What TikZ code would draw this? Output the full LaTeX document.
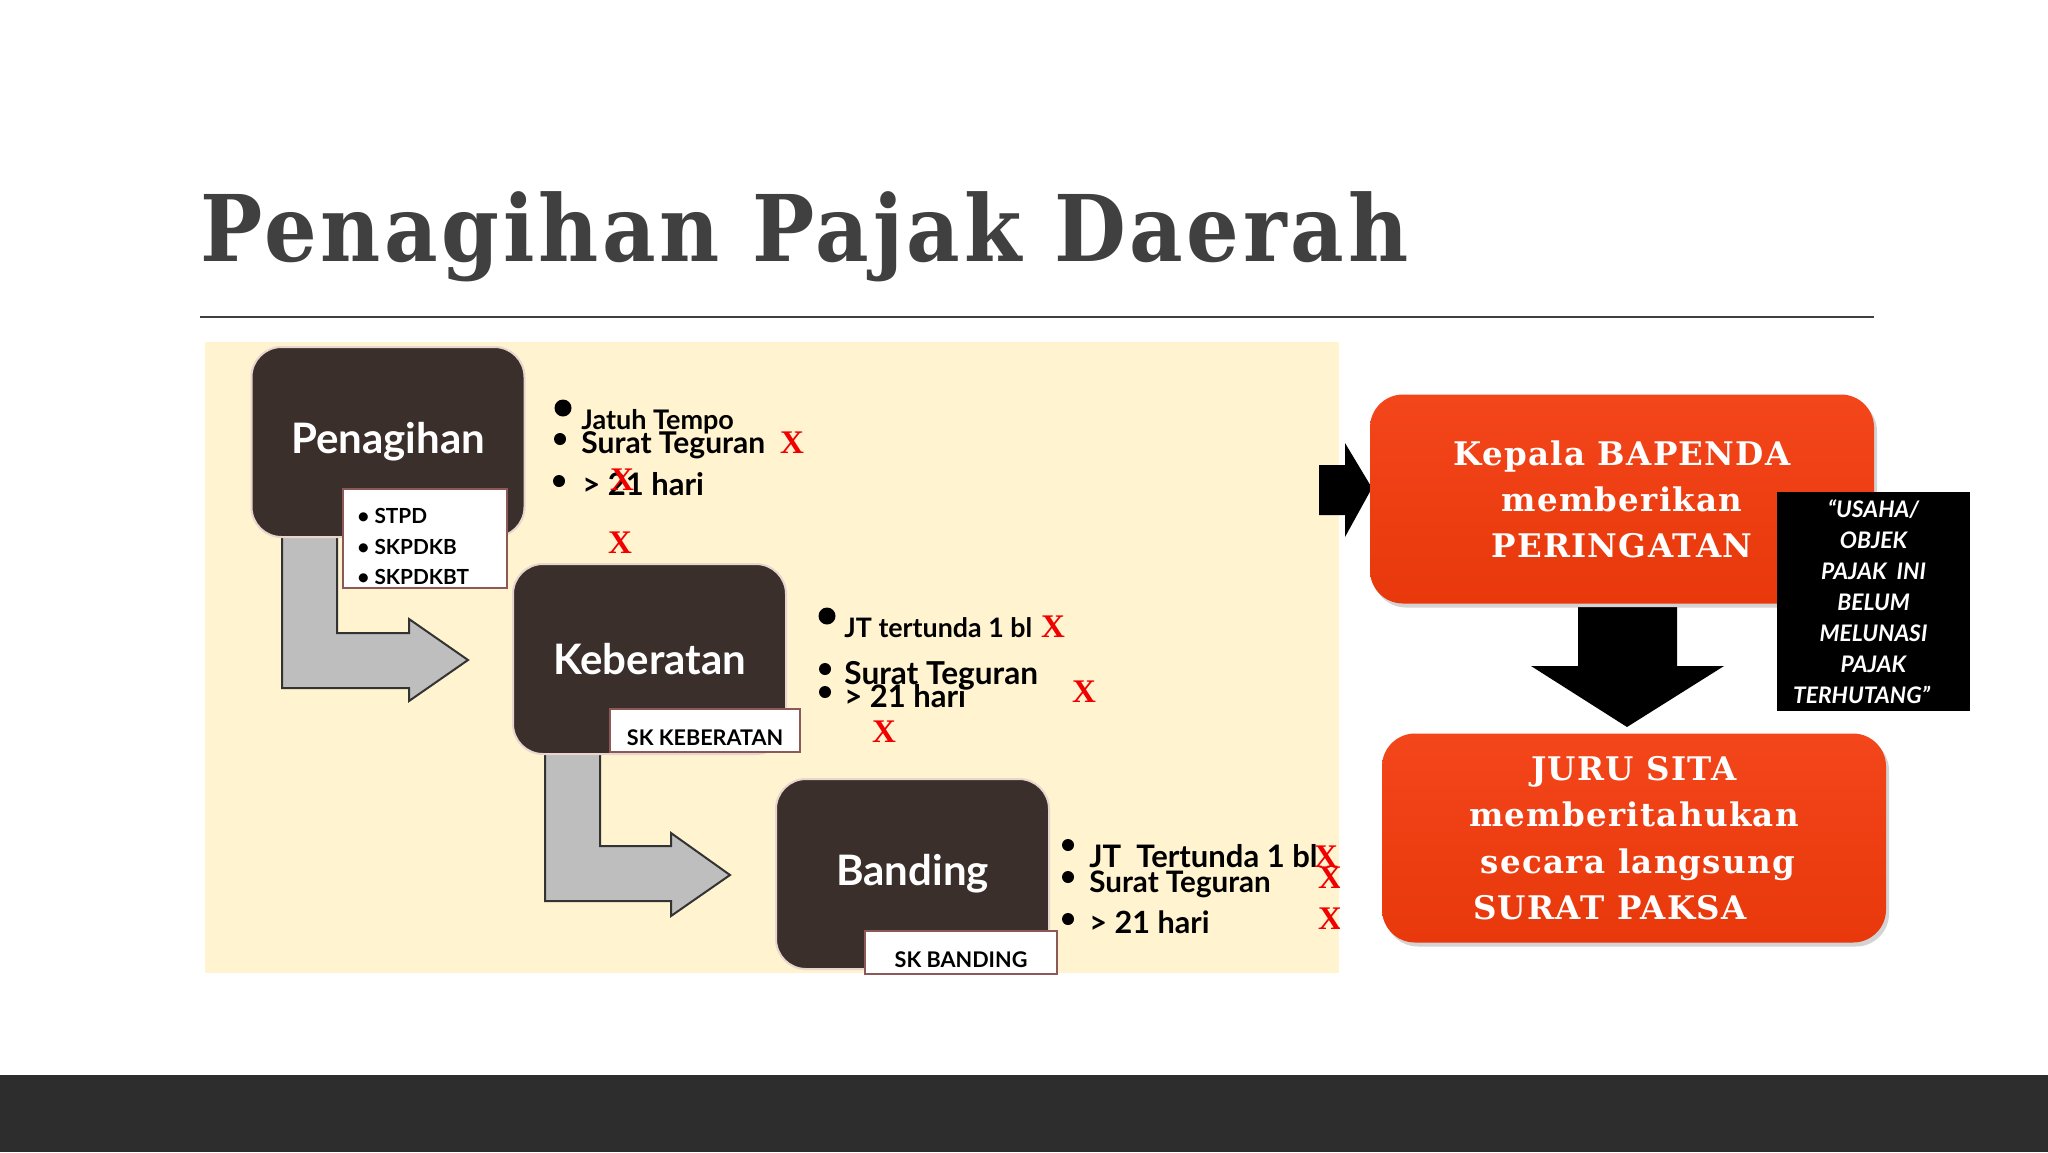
\documentclass[tikz,border=0pt]{standalone}
\usepackage{fontspec}
\setmainfont{Lato}
\newfontfamily\titlefont[FakeStretch=0.9,LetterSpace=4]{DejaVu Serif}
\newfontfamily\boxserif[LetterSpace=4]{DejaVu Serif}
\newfontfamily\xfont{Liberation Serif}
\usetikzlibrary{shadows}

\definecolor{panelcream}{RGB}{255,243,208}
\definecolor{boxbrown}{RGB}{58,47,43}
\definecolor{boxedge}{RGB}{232,214,206}
\definecolor{tagedge}{RGB}{140,88,88}
\definecolor{arrowgray}{RGB}{190,190,190}
\definecolor{alerttop}{RGB}{243,70,26}
\definecolor{alertbot}{RGB}{232,56,12}
\definecolor{titlegray}{RGB}{64,64,64}
\definecolor{footgray}{RGB}{45,45,45}
\definecolor{xred}{RGB}{240,0,0}

\newcommand{\sizept}[1]{\fontsize{#1}{#1}\selectfont}

\begin{document}
\begin{tikzpicture}[x=0.5pt,y=-0.5pt]

\tikzset{stage/.style = {draw=boxedge,line width=1pt,fill=boxbrown,rounded corners=15pt,minimum width=136.5pt,minimum height=95pt,inner sep=0pt,text=white,font=\sizept{21}\bfseries}}
\tikzset{tag/.style = {draw=tagedge,line width=1pt,fill=white,inner sep=0pt,font=\sizept{10.8}\bfseries}}
\tikzset{elbow/.style = {draw=black!80,line width=1pt,fill=arrowgray}}
\tikzset{dot/.style = {circle,fill=black,inner sep=0pt,minimum size=6pt}}
\tikzset{bigdot/.style = {circle,fill=black,inner sep=0pt,minimum size=8.5pt}}
\tikzset{item/.style = {anchor=base west,inner sep=0pt}}
\tikzset{xmark/.style = {inner sep=0pt,text=xred,font=\xfont\sizept{16.5}\bfseries}}
\tikzset{alert/.style = {rounded corners=16.5pt,top color=alerttop,bottom color=alertbot,minimum width=252pt,minimum height=104.5pt,inner sep=0pt,text=white,align=center,drop shadow={shadow xshift=1.5pt,shadow yshift=-2pt,opacity=0.35}}}

\useasboundingbox (0,0) rectangle (2048,1152);

%title
\node[anchor=base west,inner sep=0pt,text=titlegray,font=\titlefont\sizept{46}\bfseries] (title) at (200,261) {Penagihan Pajak Daerah};
\draw[titlegray,line width=1pt] (200,317) -- (1874,317);
\fill[footgray] (0,1075) rectangle (2048,1152);

%panel
\fill[panelcream] (205,342) rectangle (1339,973);
\draw[elbow] (282,530) -- (282,688) -- (409,688) -- (409,701) -- (468,660) -- (409,619) -- (409,633) -- (337,633) -- (337,530) -- cycle;
\draw[elbow] (545,745) -- (545,901) -- (671,901) -- (671,916) -- (730,875) -- (671,833) -- (671,846) -- (600,846) -- (600,745) -- cycle;

\node[stage] (pen) at (388,442) {Penagihan};
\node[stage] (keb) at (649.5,659) {Keberatan};
\node[stage] (ban) at (912.5,874) {Banding};

\node[tag,minimum width=82pt,minimum height=49.5pt] (stpd) at (425,538.5) {};
\node[anchor=north west,inner sep=0pt,align=left,font=\fontsize{10.4}{15.25}\selectfont\bfseries] (stpdlist) at (357,508) {\textbullet\ STPD\\\textbullet\ SKPDKB\\\textbullet\ SKPDKBT};
\node[tag,minimum width=95pt,text height=18pt,text depth=3.5pt,inner ysep=0pt] (skkeb) at (705,730.5) {SK KEBERATAN};
\node[tag,minimum width=96pt,text height=18pt,text depth=3.5pt,inner ysep=0pt] (skban) at (961,952.5) {SK BANDING};

%penagihan items
\node[bigdot] (p0) at (563,408) {};
\node[dot] (p1) at (560,439) {};
\node[dot] (p2) at (559,481) {};
\node[item,font=\sizept{13.5}\bfseries] (pt0) at (581,429) {Jatuh Tempo};
\node[item,font=\sizept{15}\bfseries] (pt1) at (581,453) {Surat Teguran};
\node[item,font=\sizept{15.5}\bfseries] (pt2) at (582,495) {> 21 hari};

%keberatan items
\node[bigdot] (k0) at (827,616) {};
\node[dot] (k1) at (825,669) {};
\node[dot] (k2) at (825,692) {};
\node[item,font=\sizept{13.4}\bfseries] (kt0) at (844,637) {JT tertunda 1 bl};
\node[item,font=\sizept{15.8}\bfseries] (kt1) at (844,684) {Surat Teguran};
\node[item,font=\sizept{15.5}\bfseries] (kt2) at (844,707) {> 21 hari};

%banding items
\node[dot] (b0) at (1068,845) {};
\node[dot] (b1) at (1068,877) {};
\node[dot] (b2) at (1068,919) {};
\node[item,font=\sizept{15.5}\bfseries] (bt0) at (1089,867) {JT\ \ Tertunda 1 bl};
\node[item,font=\sizept{14.8}\bfseries] (bt1) at (1089,892) {Surat Teguran};
\node[item,font=\sizept{15.3}\bfseries] (bt2) at (1089,933) {> 21 hari};

%marks
\node[xmark] (x1) at (792,443) {X};
\node[xmark] (x2) at (622,480) {X};
\node[xmark] (x3) at (620,543) {X};
\node[xmark] (x4) at (1053,627) {X};
\node[xmark] (x5) at (1084,692) {X};
\node[xmark] (x6) at (884,732) {X};
\begin{scope}
\clip (205,342) rectangle (1339,973);
\node[xmark] (x7) at (1326,857) {X};
\node[xmark] (x8) at (1330,878) {X};
\node[xmark] (x9) at (1330,919) {X};
\end{scope}

%right side
\fill (1319,465) -- (1345,465) -- (1345,443) -- (1372,488) -- (1345,537) -- (1345,515) -- (1319,515) -- cycle;
\fill (1578,607) -- (1677,607) -- (1677,666) -- (1724,666) -- (1627,727) -- (1531,666) -- (1578,666) -- cycle;
\node[alert,font=\boxserif\fontsize{16.25}{23}\selectfont\bfseries] (kepala) at (1622,499) {Kepala BAPENDA\\memberikan\\PERINGATAN};
\node[alert,font=\boxserif\fontsize{16.25}{23.25}\selectfont\bfseries] (juru) at (1634,838) {JURU SITA\\memberitahukan\\\hspace*{4pt}secara langsung\\SURAT PAKSA\hspace*{24pt}};
\node[fill=black,minimum width=96.5pt,minimum height=109.5pt,inner sep=0pt,text=white,align=center,font=\fontsize{11.4}{15.5}\selectfont\bfseries\itshape] (usaha) at (1873.5,601.5) {“USAHA/\\OBJEK\\PAJAK\ \ INI\\BELUM\\MELUNASI\\PAJAK\\TERHUTANG”\hspace*{12pt}};

\end{tikzpicture}
\end{document}
